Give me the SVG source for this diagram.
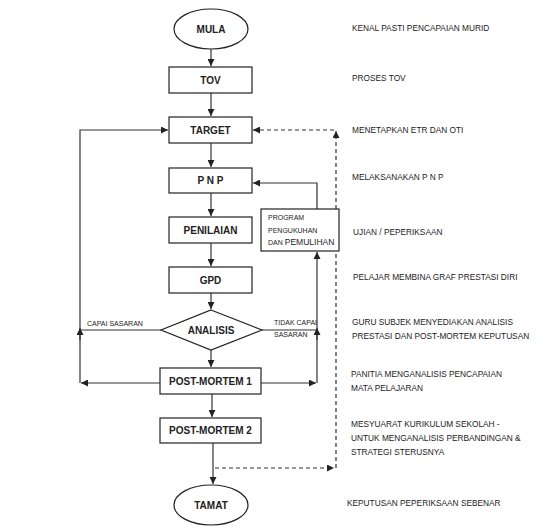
<svg xmlns="http://www.w3.org/2000/svg" width="546" height="532" viewBox="0 0 546 532">
<defs>
<marker id="ah" viewBox="0 0 10 10" refX="10" refY="5" markerWidth="7" markerHeight="7" markerUnits="userSpaceOnUse" orient="auto">
<path d="M0,0 L10,5 L0,10 z" fill="#222"/>
</marker>
</defs>
<style>
.n{fill:#fff;stroke:#222;stroke-width:1.2}
.t{font-family:"Liberation Sans",Arial,sans-serif;font-weight:bold;font-size:10px;fill:#222;text-anchor:middle}
.r{font-family:"Liberation Sans",Arial,sans-serif;font-size:8.3px;fill:#222}
.s{font-family:"Liberation Sans",Arial,sans-serif;font-size:7px;fill:#222}
.c{fill:none;stroke:#333;stroke-width:1.2}
.d{fill:none;stroke:#333;stroke-width:1.2;stroke-dasharray:4,3}
</style>
<rect width="546" height="532" fill="#fff"/>
<g id="connectors">
<path class="c" d="M211,49 V66" marker-end="url(#ah)"/>
<path class="c" d="M211,93 V116" marker-end="url(#ah)"/>
<path class="c" d="M211,143 V167" marker-end="url(#ah)"/>
<path class="c" d="M211,193 V216" marker-end="url(#ah)"/>
<path class="c" d="M211,243 V266" marker-end="url(#ah)"/>
<path class="c" d="M211,293 V309" marker-end="url(#ah)"/>
<path class="c" d="M211,350 V367" marker-end="url(#ah)"/>
<path class="c" d="M212,394 V417" marker-end="url(#ah)"/>
<path class="c" d="M213,443 V484" marker-end="url(#ah)"/>
<path class="c" d="M161,330 H80"/>
<path class="c" d="M262,330 H317"/>
<path class="c" d="M160,383 H81" marker-end="url(#ah)"/>
<path class="c" d="M261,383 H316" marker-end="url(#ah)"/>
<path class="c" d="M80,383 V330"/>
<path class="c" d="M80,340 V328" marker-end="url(#ah)"/>
<path class="c" d="M80,330 V130 H168" marker-end="url(#ah)"/>
<path class="c" d="M317,383 V330"/>
<path class="c" d="M317,340 V328" marker-end="url(#ah)"/>
<path class="c" d="M317,330 V252" marker-end="url(#ah)"/>
<path class="c" d="M317,209 V183 H253" marker-end="url(#ah)"/>
<path class="d" d="M215,468 H334" marker-end="url(#ah)"/>
<path class="d" d="M336,468 V131" marker-end="url(#ah)"/>
<path class="d" d="M334,130 H253" marker-end="url(#ah)"/>
</g>
<g id="mula"><ellipse class="n" cx="211" cy="29" rx="37" ry="20"/><text class="t" x="211" y="33">MULA</text></g>
<g id="tov"><rect class="n" x="169" y="67" width="83" height="26"/><text class="t" x="210.5" y="84">TOV</text></g>
<g id="target"><rect class="n" x="169" y="117" width="83" height="26"/><text class="t" x="210.5" y="134">TARGET</text></g>
<g id="pnp"><rect class="n" x="169" y="168" width="83" height="25"/><text class="t" x="210.5" y="184">P N P</text></g>
<g id="penilaian"><rect class="n" x="169" y="217" width="83" height="26"/><text class="t" x="210.5" y="234">PENILAIAN</text></g>
<g id="gpd"><rect class="n" x="169" y="267" width="83" height="26"/><text class="t" x="210.5" y="284">GPD</text></g>
<g id="analisis"><polygon class="n" points="211,310 262,330 211,350 161,330"/><text class="t" x="211" y="334">ANALISIS</text></g>
<g id="pm1"><rect class="n" x="160" y="368" width="101" height="26"/><text class="t" x="210.5" y="385">POST-MORTEM  1</text></g>
<g id="pm2"><rect class="n" x="160" y="418" width="101" height="25"/><text class="t" x="210.5" y="434">POST-MORTEM  2</text></g>
<g id="tamat"><ellipse class="n" cx="211" cy="505" rx="37" ry="20"/><text class="t" x="211" y="509">TAMAT</text></g>
<g id="program"><rect class="n" x="261" y="209" width="78" height="42"/>
<text class="s" x="268" y="220">PROGRAM</text>
<text class="s" x="268" y="233">PENGUKUHAN</text>
<text class="s" x="268" y="245">DAN <tspan style="font-size:8.5px">PEMULIHAN</tspan></text></g>
<g id="labels">
<text class="s" x="87" y="326">CAPAI SASARAN</text>
<text class="s" x="274" y="325">TIDAK CAPAI</text>
<text class="s" x="274" y="337">SASARAN</text>
<text class="r" x="352" y="31">KENAL PASTI PENCAPAIAN  MURID</text>
<text class="r" x="352" y="81">PROSES TOV</text>
<text class="r" x="352" y="133">MENETAPKAN ETR DAN OTI</text>
<text class="r" x="352" y="180">MELAKSANAKAN P N P</text>
<text class="r" x="353" y="235">UJIAN / PEPERIKSAAN</text>
<text class="r" x="353" y="280">PELAJAR MEMBINA GRAF PRESTASI DIRI</text>
<text class="r" x="352" y="325">GURU SUBJEK  MENYEDIAKAN ANALISIS</text>
<text class="r" x="352" y="339">PRESTASI DAN POST-MORTEM KEPUTUSAN</text>
<text class="r" x="351" y="377">PANITIA MENGANALISIS PENCAPAIAN</text>
<text class="r" x="351" y="391">MATA PELAJARAN</text>
<text class="r" x="351" y="427">MESYUARAT KURIKULUM  SEKOLAH -</text>
<text class="r" x="351" y="441">UNTUK MENGANALISIS PERBANDINGAN  &amp;</text>
<text class="r" x="351" y="455">STRATEGI STERUSNYA</text>
<text class="r" x="347" y="506">KEPUTUSAN PEPERIKSAAN SEBENAR</text>
</g>
</svg>
